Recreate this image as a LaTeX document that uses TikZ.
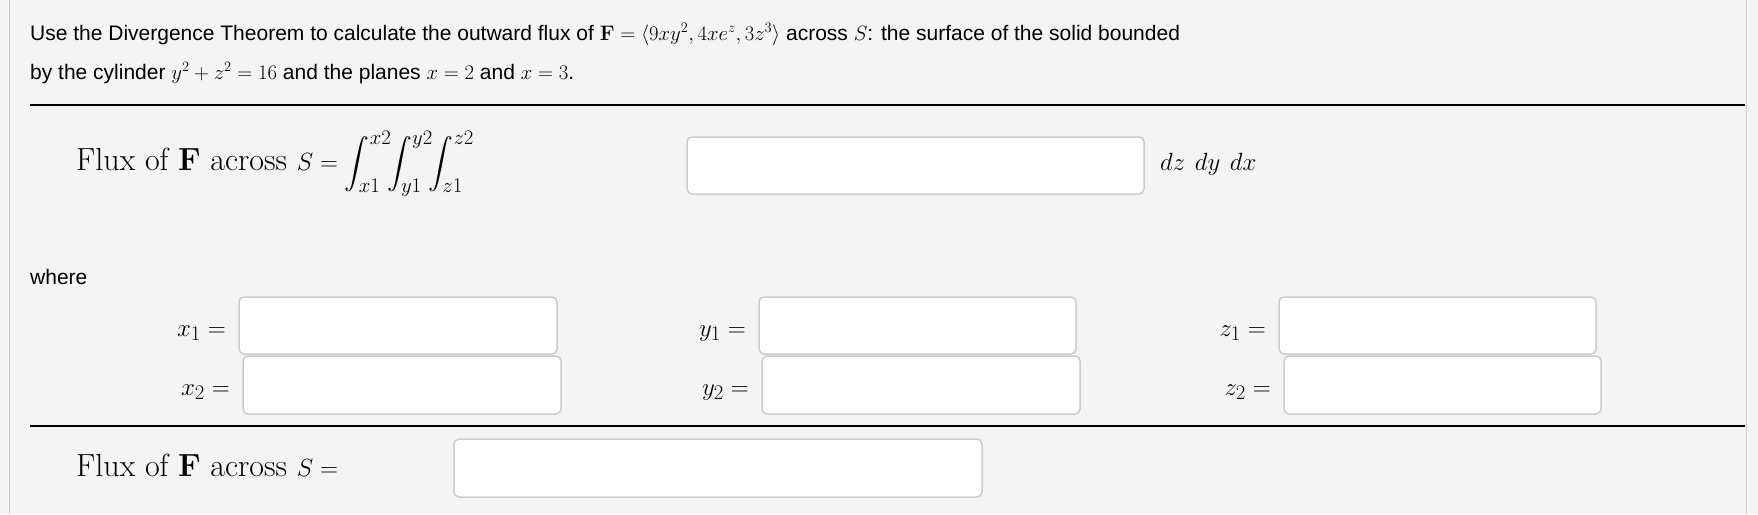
\documentclass[tikz,border=0pt]{standalone}
\usepackage{fontspec}
\setmainfont{Latin Modern Roman}
\newfontfamily\arialf{Liberation Sans}
\usepackage{amsmath}
\definecolor{panel}{HTML}{F4F4F4}
\definecolor{boxline}{HTML}{CCCCCC}
\tikzset{
  ansbox/.style={draw=boxline,line width=1.5pt,fill=white,rounded corners=5pt},
  stmt/.style={anchor=base west,inner sep=0pt,font=\arialf\fontsize{21}{25}\selectfont},
  cmtext/.style={anchor=base west,inner sep=0pt,font=\fontsize{32}{38}\selectfont},
  rulel/.style={line width=2pt}
}
\begin{document}
\begin{tikzpicture}[x=1pt,y=-1pt]
\useasboundingbox (0,0) rectangle (1758,514);
\fill[panel] (0,0) rectangle (1758,514);
\draw[boxline,line width=1pt] (9,0) -- (9,514);
\draw[boxline,line width=1pt] (1746,0) -- (1746,514);
\node[stmt] (l1) at (30,40) {Use the Divergence Theorem to calculate the outward flux of $\mathbf{F}=\langle 9xy^2,4xe^{z},3z^3\rangle$ across $S$: the surface of the solid bounded};
\node[stmt] (l2) at (30,79) {by the cylinder $y^2+z^2=16$ and the planes $x=2$ and $x=3$.};
\draw[rulel] (30,105) -- (1745,105);
\node[cmtext] (flux) at (76,170) {Flux of $\mathbf{F}$ across $S = \displaystyle\int_{x1}^{x2}\!\!\int_{y1}^{y2}\!\!\int_{z1}^{z2}$};
\draw[ansbox] (687,137) rectangle (1144,194);
\node[cmtext] (dz) at (1160,170) {$dz\ dy\ dx$};
\node[stmt] (where) at (30,284) {where};
\draw[ansbox] (239,297) rectangle (557,354);
\draw[ansbox] (759,297) rectangle (1076,354);
\draw[ansbox] (1279,297) rectangle (1596,354);
\draw[ansbox] (243,356) rectangle (561,414);
\draw[ansbox] (762,356) rectangle (1080,414);
\draw[ansbox] (1284,356) rectangle (1601,414);
\node[cmtext,anchor=base east] (x1) at (226,336) {$x_1 =$};
\node[cmtext,anchor=base east] (y1) at (746,336) {$y_1 =$};
\node[cmtext,anchor=base east] (z1) at (1266,336) {$z_1 =$};
\node[cmtext,anchor=base east] (x2) at (230,395) {$x_2 =$};
\node[cmtext,anchor=base east] (y2) at (749,395) {$y_2 =$};
\node[cmtext,anchor=base east] (z2) at (1271,395) {$z_2 =$};
\draw[rulel] (30,426) -- (1745,426);
\node[cmtext] (flux2) at (76,476) {Flux of $\mathbf{F}$ across $S =$};
\draw[ansbox] (454,439) rectangle (982,497);
\end{tikzpicture}
\end{document}
